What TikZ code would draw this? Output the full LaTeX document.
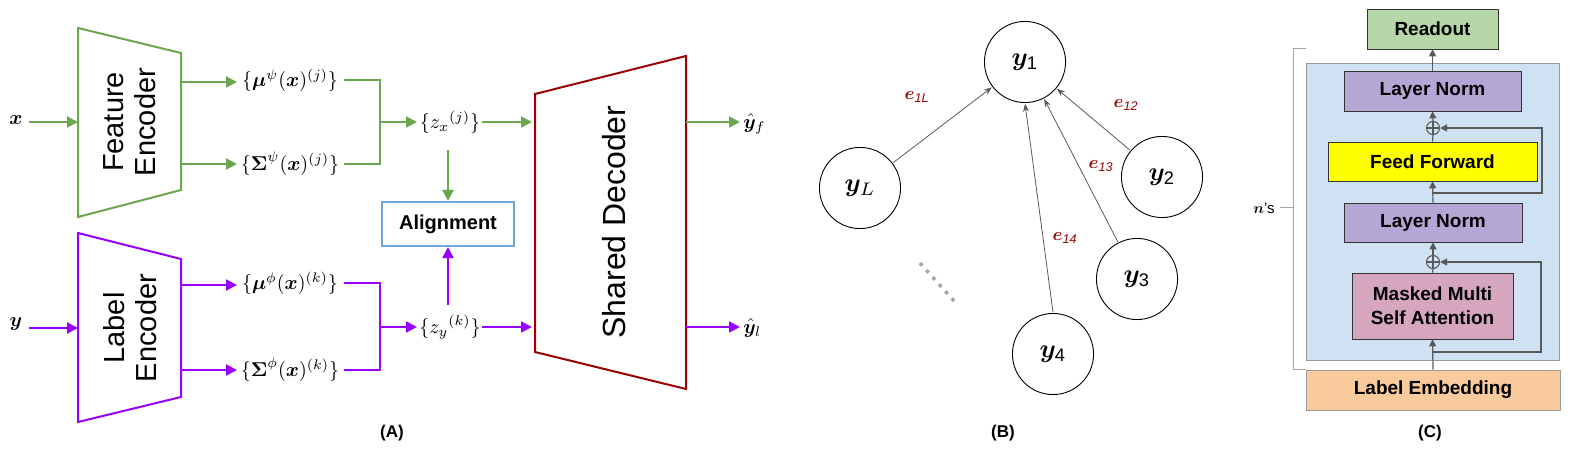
\documentclass[tikz,border=0pt]{standalone}
\usepackage{fontspec}
\usepackage{amsmath,bm}
\setmainfont{Liberation Sans}
\usetikzlibrary{arrows.meta}
\definecolor{gA}{HTML}{6AA84F}
\definecolor{pA}{HTML}{9900FF}
\definecolor{rA}{HTML}{990000}
\definecolor{bA}{HTML}{6FA8DC}
\definecolor{gr}{HTML}{595959}
\tikzset{
 garr/.style={draw=gA,line width=2pt,-{Triangle[length=11pt,width=11pt]}},
 parr/.style={draw=pA,line width=2pt,-{Triangle[length=11pt,width=11pt]}},
 gline/.style={draw=gA,line width=2pt},
 pline/.style={draw=pA,line width=2pt},
 mathlbl/.style={scale=2,inner sep=0.5pt},
 gnode/.style={circle,draw,line width=0.9pt,scale=2.6,minimum size=31.2pt,inner sep=0pt},
 gedge/.style={draw=gr,line width=0.8pt,-{Stealth[length=8pt,width=6pt]}},
 elbl/.style={text=rA,scale=1.8},
 cbox/.style={draw=black!80,line width=0.6pt,font=\bfseries\fontsize{19}{19}\selectfont,inner sep=0pt},
 carr/.style={draw=gr,line width=1.2pt,-{Triangle[length=7pt,width=7pt]}},
 captxt/.style={font=\bfseries\fontsize{17}{17}\selectfont}
}
\begin{document}
\begin{tikzpicture}[x=1pt,y=-1pt]
\useasboundingbox (0,0) rectangle (1592,449);
% ---------- Panel A
\draw[gA,line width=2pt] (78,28) -- (181,53) -- (181,190) -- (78,217) -- cycle;
\node[rotate=90,align=center,font=\fontsize{29}{32}\selectfont] (fe) at (130,122) {Feature\\Encoder};
\draw[pA,line width=2pt] (78,233) -- (181,259) -- (181,397) -- (78,422) -- cycle;
\node[rotate=90,align=center,font=\fontsize{29}{32}\selectfont] (le) at (130,328) {Label\\Encoder};
\draw[rA,line width=2pt] (535,94) -- (686,56) -- (686,389) -- (535,352) -- cycle;
\node[rotate=90,font=\fontsize{32}{32}\selectfont] (sd) at (614,222) {Shared Decoder};

\node[mathlbl] (x) at (16,120) {$\bm{x}$};
\node[mathlbl] (y) at (16,324) {$\bm{y}$};
\coordinate (fin) at (78,122);
\coordinate (lin) at (78,328);
\coordinate (xs) at (29,122); \coordinate (ys) at (29,328);
\draw[garr] (xs) -- (fin);
\draw[parr] (ys) -- (lin);

\node[mathlbl] (mup) at (290,80) {$\{\bm{\mu}^{\psi}(\bm{x})^{(j)}\}$};
\node[mathlbl] (sip) at (290,164) {$\{\bm{\Sigma}^{\psi}(\bm{x})^{(j)}\}$};
\node[mathlbl] (muf) at (290,283) {$\{\bm{\mu}^{\phi}(\bm{x})^{(k)}\}$};
\node[mathlbl] (sif) at (290,370) {$\{\bm{\Sigma}^{\phi}(\bm{x})^{(k)}\}$};
\coordinate (f1) at (182,82); \coordinate (f2) at (182,164);
\coordinate (l1) at (182,285); \coordinate (l2) at (182,370);
\coordinate (f1e) at (237,82); \coordinate (f2e) at (237,164);
\coordinate (l1e) at (237,285); \coordinate (l2e) at (237,370);
\draw[garr] (f1) -- (f1e);
\draw[garr] (f2) -- (f2e);
\draw[parr] (l1) -- (l1e);
\draw[parr] (l2) -- (l2e);

\node[mathlbl] (zx) at (450,122) {$\{z_x{}^{(j)}\}$};
\node[mathlbl] (zy) at (450,327) {$\{z_y{}^{(k)}\}$};
\draw[gline] (344,80) -- (380,80) -- (380,164) -- (344,164);
\draw[pline] (344,283) -- (380,283) -- (380,370) -- (344,370);
\coordinate (gj) at (380,122); \coordinate (pj) at (380,327);
\coordinate (gje) at (417,122); \coordinate (pje) at (417,327);
\draw[garr] (gj) -- (gje);
\draw[parr] (pj) -- (pje);
\coordinate (din1) at (532,122); \coordinate (din2) at (532,327);
\coordinate (zxe) at (482,122); \coordinate (zye) at (482,327);
\draw[garr] (zxe) -- (din1);
\draw[parr] (zye) -- (din2);

\node[draw=bA,line width=2pt,minimum width=132pt,minimum height=44pt,font=\bfseries\fontsize{20}{20}\selectfont] (al) at (448,224) {Alignment};
\coordinate (za) at (448,150); \coordinate (zb) at (448,305);
\draw[garr] (za) -- (al.north);
\draw[parr] (zb) -- (al.south);

\node[mathlbl,anchor=west] (yf) at (742,124) {$\hat{\bm{y}}_{f}$};
\node[mathlbl,anchor=west] (yl) at (742,328) {$\hat{\bm{y}}_{l}$};
\coordinate (o1) at (686,122); \coordinate (o2) at (686,327);
\coordinate (o1e) at (740,122); \coordinate (o2e) at (740,327);
\draw[garr] (o1) -- (o1e);
\draw[parr] (o2) -- (o2e);
\node[captxt] (ca) at (392,433) {(A)};

% ---------- Panel B
\node[gnode] (y1) at (1025,62) {$\bm{y}_{\text{1}}$};
\node[gnode] (yL) at (860,188) {$\bm{y}_{L}$};
\node[gnode] (y2) at (1162,177) {$\bm{y}_{\text{2}}$};
\node[gnode] (y3) at (1137,279) {$\bm{y}_{\text{3}}$};
\node[gnode] (y4) at (1053,354) {$\bm{y}_{\text{4}}$};
\draw[gedge] (yL) -- (y1);
\draw[gedge] (y2) -- (y1);
\draw[gedge] (y3) -- (y1);
\draw[gedge] (y4.north) -- (y1.south);
\node[elbl] (e1L) at (917,97) {$\bm{e}_{\mathit{1L}}$};
\node[elbl] (e12) at (1126,105) {$\bm{e}_{\mathit{12}}$};
\node[elbl] (e13) at (1101,166) {$\bm{e}_{\mathit{13}}$};
\node[elbl] (e14) at (1065,238) {$\bm{e}_{\mathit{14}}$};
\coordinate (d1) at (920,263); \coordinate (d2) at (955,302);
\draw[gray!70,line width=3.5pt,dash pattern=on 3.5pt off 6pt] (d1) -- (d2);
\node[captxt] (cb) at (1003,433) {(B)};

% ---------- Panel C
\node[draw=gray!80,fill={rgb,255:red,207;green,226;blue,243},line width=0.8pt,minimum width=253pt,minimum height=297pt,inner sep=0pt] (cont) at (1432.5,211.5) {};
\node[cbox,fill={rgb,255:red,182;green,215;blue,168},minimum width=131pt,minimum height=40pt] (ro) at (1432.5,29) {Readout};
\node[cbox,fill={rgb,255:red,180;green,167;blue,214},minimum width=177pt,minimum height=40pt] (ln1) at (1432.5,91) {Layer Norm};
\node[cbox,fill={rgb,255:red,255;green,255;blue,0},minimum width=209pt,minimum height=39pt] (ff) at (1432.5,161.5) {Feed Forward};
\node[cbox,fill={rgb,255:red,180;green,167;blue,214},minimum width=178pt,minimum height=39pt] (ln2) at (1433,222.5) {Layer Norm};
\node[cbox,fill={rgb,255:red,213;green,166;blue,189},minimum width=161pt,minimum height=66pt,align=center,font=\bfseries\fontsize{19}{24}\selectfont] (ma) at (1432.5,306) {Masked Multi\\Self Attention};
\node[cbox,fill={rgb,255:red,249;green,203;blue,156},draw=gray!80,minimum width=254pt,minimum height=40pt] (le2) at (1433,390) {Label Embedding};
\node[circle,draw=gr,line width=1.1pt,minimum size=13pt,inner sep=0pt] (p1) at (1433,128) {};
\node[circle,draw=gr,line width=1.1pt,minimum size=13pt,inner sep=0pt] (p2) at (1433,262) {};
\draw[gr,line width=1.1pt] (p1.north) -- (p1.south) (p1.west) -- (p1.east);
\draw[gr,line width=1.1pt] (p2.north) -- (p2.south) (p2.west) -- (p2.east);
\draw[carr] (le2.north) -- (ma.south);
\draw[gr,line width=1.2pt] (ma.north) -- (p2.south);
\draw[carr] (p2.north) -- (ln2.south);
\draw[carr] (ln2.north) -- (ff.south);
\draw[gr,line width=1.2pt] (ff.north) -- (p1.south);
\draw[carr] (p1.north) -- (ln1.south);
\draw[carr] (ln1.north) -- (ro.south);
\coordinate (r1a) at (1433,193); \coordinate (r1b) at (1542,193);
\coordinate (r2a) at (1433,352); \coordinate (r2b) at (1541,352);
\draw[carr] (r1a) -- (r1b) |- (p1.east);
\draw[carr] (r2a) -- (r2b) |- (p2.east);
\draw[gray!70,line width=1pt] (1306,49) -- (1293,49) -- (1293,369) -- (1306,369);
\coordinate (bt) at (1293,208);
\node[scale=1.5,anchor=east] (ns) at (1280,208) {$\bm{n}$'s};
\draw[gray!70,line width=1pt] (ns.east) -- (bt);
\node[captxt] (cc) at (1430,433) {(C)};
\end{tikzpicture}
\end{document}
